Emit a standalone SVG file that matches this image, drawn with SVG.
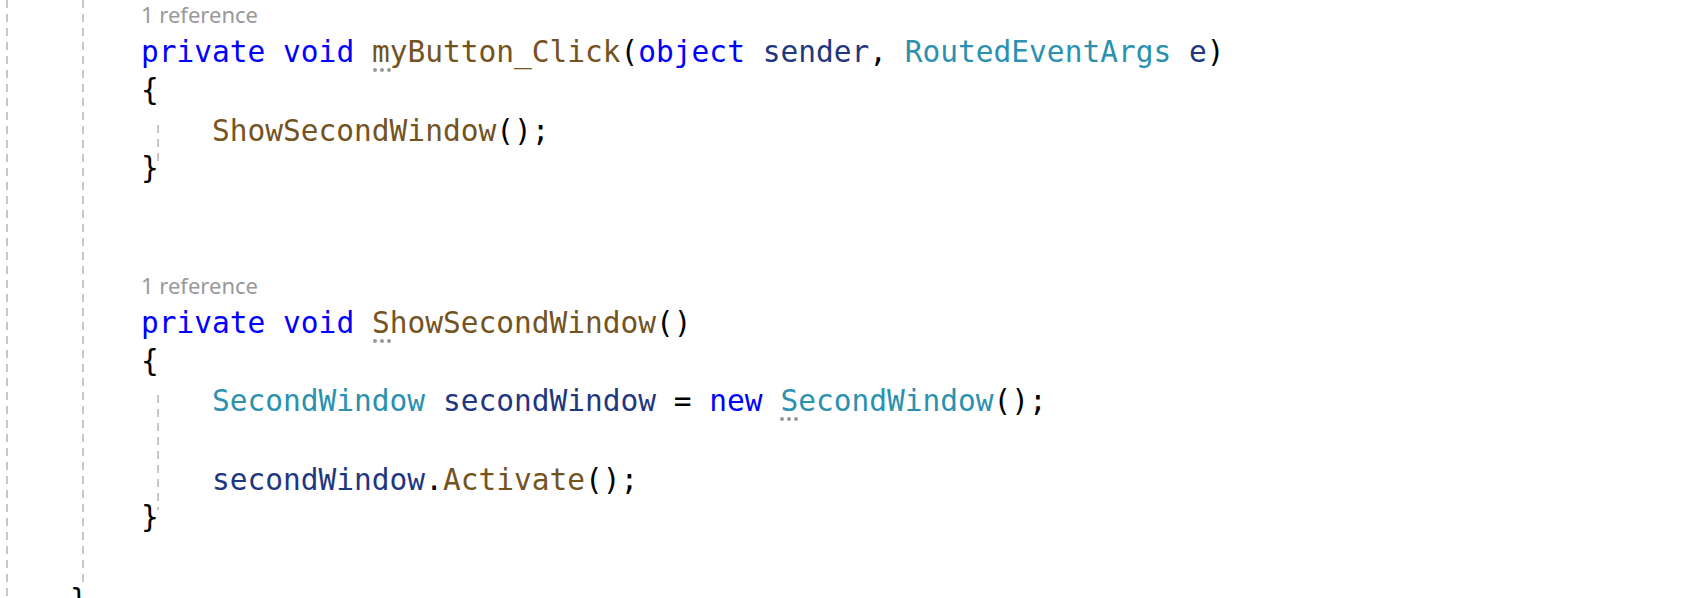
<svg xmlns="http://www.w3.org/2000/svg" width="1690" height="598" viewBox="0 0 1690 598">
<style>
.c{font-family:"DejaVu Sans Mono",monospace;font-size:29.5px;fill:#000}
.r{font-family:"Noto Sans","Open Sans",sans-serif;font-size:22px;fill:#999}
.k{fill:#0000ff}.m{fill:#74531f}.t{fill:#2b91af}.v{fill:#1f377f}
.g{stroke:#c8c8c8;stroke-width:2;stroke-dasharray:8 6}
.d{fill:#999}
</style>
<rect width="1690" height="598" fill="#fff"/>
<g id="guides">
<line class="g" x1="7" y1="0" x2="7" y2="598"/>
<line class="g" x1="83" y1="0" x2="83" y2="585"/>
<line class="g" x1="158" y1="125" x2="158" y2="162"/>
<line class="g" x1="158" y1="395" x2="158" y2="510"/>
</g>
<g id="code">
<text class="r" x="141" y="23">1 reference</text>
<text class="c" x="141" y="62"><tspan class="k">private</tspan> <tspan class="k">void</tspan> <tspan class="m">myButton_Click</tspan>(<tspan class="k">object</tspan> <tspan class="v">sender</tspan>, <tspan class="t">RoutedEventArgs</tspan> <tspan class="v">e</tspan>)</text>
<text class="c" x="141" y="100">{</text>
<text class="c" x="212" y="141"><tspan class="m">ShowSecondWindow</tspan>();</text>
<text class="c" x="141" y="178">}</text>
<text class="r" x="141" y="294">1 reference</text>
<text class="c" x="141" y="333"><tspan class="k">private</tspan> <tspan class="k">void</tspan> <tspan class="m">ShowSecondWindow</tspan>()</text>
<text class="c" x="141" y="371">{</text>
<text class="c" x="212" y="411"><tspan class="t">SecondWindow</tspan> <tspan class="v">secondWindow</tspan> = <tspan class="k">new</tspan> <tspan class="t">SecondWindow</tspan>();</text>
<text class="c" x="212" y="490"><tspan class="v">secondWindow</tspan>.<tspan class="m">Activate</tspan>();</text>
<text class="c" x="141" y="527">}</text>
<text class="c" x="70" y="610">}</text>
</g>
<g id="dots">
<circle class="d" cx="375" cy="70" r="2"/><circle class="d" cx="382" cy="70" r="2"/><circle class="d" cx="389" cy="70" r="2"/>
<circle class="d" cx="375" cy="341" r="2"/><circle class="d" cx="382" cy="341" r="2"/><circle class="d" cx="389" cy="341" r="2"/>
<circle class="d" cx="782" cy="419" r="2"/><circle class="d" cx="789" cy="419" r="2"/><circle class="d" cx="796" cy="419" r="2"/>
</g>
</svg>
